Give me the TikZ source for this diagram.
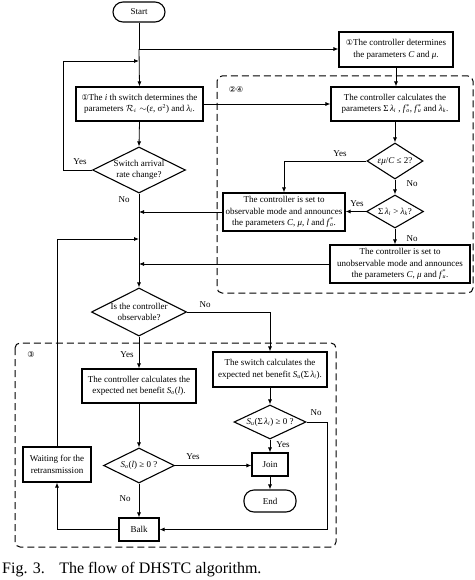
\documentclass[tikz,border=0pt]{standalone}
\usepackage{fontspec}
\setmainfont{Liberation Serif}
\newfontfamily\dvs{DejaVu Sans}
\usetikzlibrary{shapes.geometric,arrows.meta}
\newcommand\ci[1]{{\dvs\fontsize{8}{8}\selectfont #1}}
\newcommand\sbx[1]{\textsubscript{#1}}
\newcommand\spb[2]{{\ooalign{\textsuperscript{#1}\cr\textsubscript{#2}\cr}}}
\begin{document}
\begin{tikzpicture}[x=1pt,y=-1pt,
  every node/.style={font=\fontsize{9}{11.5}\selectfont},
  box/.style={draw, line width=1.1pt, align=center, inner sep=0pt},
  term/.style={box, rounded corners=10pt},
  dia/.style={draw, diamond, line width=1.1pt, inner sep=0pt},
  lbl/.style={font=\fontsize{9}{10}\selectfont, inner sep=1pt},
  arr/.style={-{Latex[length=5pt,width=4pt]}, line width=0.8pt},
  ln/.style={line width=0.8pt},
  region/.style={draw, line width=1pt, dash pattern=on 7pt off 4pt, rounded corners=5pt}
]
\useasboundingbox (0,0) rectangle (474,580);

% regions
\draw[region] (217,76) rectangle (473,293);
\node[lbl] (ra) at (236,90) {\ci{②④}};
\draw[region] (15,343) rectangle (336,547);
\node[lbl] (rb) at (31,355) {\ci{③}};

% nodes
\node[term, minimum width=52pt, minimum height=20pt] (start) at (139,12) {Start};
\node[box, minimum width=114pt, minimum height=35pt] (cdet) at (396,49.5) {\ci{①}The controller determines\\the parameters \textit{C} and \textit{μ}.};
\node[box, minimum width=127pt, minimum height=34pt] (sw) at (139.5,104) {\ci{①}The \textit{i} th switch determines the\\parameters $\mathcal{R}_i\sim$(\textit{ε}, σ\textsuperscript{2}) and \textit{λ}\sbx{\textit{i}}.};
\node[box, minimum width=128pt, minimum height=34pt] (calc) at (395,104) {The controller calculates the\\parameters Σ\,\textit{λ}\sbx{\textit{i}} , \textit{f}\spb{*}{\textit{o}}, \textit{f}\spb{*}{\textit{u}} and \textit{λ}\sbx{\textit{k}}.};
\node[dia, minimum width=93pt, minimum height=46pt, label={[align=center]center:Switch arrival\\rate change?}] (d1) at (139,170) {};
\node[dia, minimum width=56pt, minimum height=36pt, label={center:\textit{εμ}/\textit{C} ≤ 2?}] (d2) at (395,161) {};
\node[dia, minimum width=57pt, minimum height=33pt, label={center:Σ\,\textit{λ}\sbx{\textit{i}} > \textit{λ}\sbx{\textit{k}}?}] (d3) at (395,211.5) {};
\node[box, minimum width=122pt, minimum height=38pt] (obs) at (284,212) {The controller is set to\\observable mode and announces\\the parameters \textit{C}, \textit{μ}, \textit{l} and \textit{f}\spb{*}{\textit{o}}.};
\node[box, minimum width=140pt, minimum height=38pt] (unobs) at (400,264) {The controller is set to\\unobservable mode and announces\\the parameters \textit{C}, \textit{μ} and \textit{f}\spb{*}{\textit{u}}.};
\node[dia, minimum width=95pt, minimum height=48pt, label={[align=center]center:Is the controller\\observable?}] (d4) at (139,312) {};
\node[box, minimum width=114pt, minimum height=34pt] (cc2) at (139,386) {The controller calculates the\\expected net benefit \textit{S}\sbx{\textit{o}}(\textit{l}).};
\node[dia, minimum width=71pt, minimum height=35pt, label={center:\textit{S}\sbx{\textit{o}}(\textit{l}) ≥ 0 ?}] (d5) at (139,465.5) {};
\node[box, minimum width=40pt, minimum height=23pt] (balk) at (139,529.5) {Balk};
\node[box, minimum width=68pt, minimum height=35pt] (wait) at (57,464.5) {Waiting for the\\retransmission};
\node[box, minimum width=114pt, minimum height=35pt] (sc) at (270,369.5) {The switch calculates the\\expected net benefit \textit{S}\sbx{\textit{u}}(Σ\,\textit{λ}\sbx{\textit{i}}).};
\node[dia, minimum width=72pt, minimum height=34pt, label={center:\textit{S}\sbx{\textit{u}}(Σ\,\textit{λ}\sbx{\textit{i}}) ≥ 0 ?}] (d6) at (270,422) {};
\node[box, minimum width=36pt, minimum height=23pt] (join) at (270,464.5) {Join};
\node[term, minimum width=52pt, minimum height=22pt] (fin) at (270,501) {End};

% connectors
\coordinate (j1) at (139,49);
\coordinate (j2) at (139,61);
\coordinate (j3) at (139,239);
\coordinate (l1) at (63,170);
\coordinate (r1) at (327,422);
\draw[ln] (start.south) -- (j1);
\draw[arr] (j1) -- (j1 -| cdet.west);
\draw[arr] (j1) -- (sw.north);
\draw[arr] (cdet.south) -- (cdet.south |- calc.north);
\draw[arr] (sw.east) -- (sw.east -| calc.west);
\draw[arr] (sw.south) -- (d1.north);
\draw[arr] (d1.west) -- (l1) |- (j2);
\node[lbl] (y1) at (80,162) {Yes};
\draw[arr] (calc.south) -- (d2.north);
\draw[arr] (d2.west) -| (obs.north);
\node[lbl] (y2) at (340,154) {Yes};
\draw[arr] (d2.south) -- (d3.north);
\node[lbl] (n2) at (412,184) {No};
\draw[arr] (d3.west) -- (d3.west -| obs.east);
\node[lbl] (y3) at (357,204) {Yes};
\draw[arr] (d3.south) -- (d3.south |- unobs.north);
\node[lbl] (n3) at (412,239) {No};
\draw[arr] (d1.south) -- (d4.north);
\node[lbl] (n1) at (124,200) {No};
\draw[arr] (obs.west) -- (obs.west -| d1.south);
\draw[arr] (unobs.west) -- (unobs.west -| d1.south);
\draw[arr] (wait.north) |- (j3);
\draw[arr] (d4.east) -| (sc.north);
\node[lbl] (n4) at (205,305) {No};
\draw[arr] (d4.south) -- (cc2.north);
\node[lbl] (y4) at (127,355) {Yes};
\draw[arr] (cc2.south) -- (d5.north);
\draw[arr] (d5.east) -- (d5.east -| join.west);
\node[lbl] (y5) at (193,457) {Yes};
\draw[arr] (d5.south) -- (balk.north);
\node[lbl] (n5) at (125,499) {No};
\draw[arr] (balk.west) -| (wait.south);
\draw[arr] (sc.south) -- (d6.north);
\draw[arr] (d6.east) -- (r1) |- (balk.east);
\node[lbl] (n6) at (316,413) {No};
\draw[arr] (d6.south) -- (join.north);
\node[lbl] (y6) at (283,445) {Yes};
\draw[arr] (join.south) -- (fin.north);

\node[anchor=base west, font=\fontsize{16}{18}\selectfont, inner sep=0pt] (cap) at (2,573) {Fig. 3.\hspace{0.9em}The flow of DHSTC algorithm.};
\end{tikzpicture}
\end{document}
